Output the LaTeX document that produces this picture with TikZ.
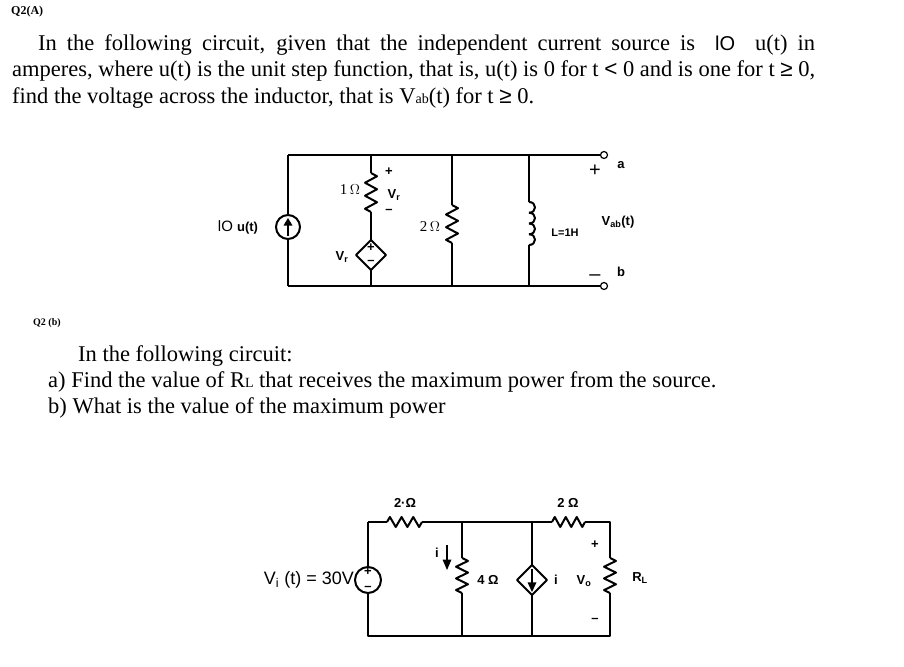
\documentclass[tikz,border=0pt]{standalone}
\usepackage{fontspec}
\setmainfont{Liberation Serif}
\newfontfamily\lab{Liberation Sans}
\newcommand\zigv[3]{\draw[wire] (#1,#2) \foreach \k in {1,...,6}{ -- ({#1+6*(2*mod(\k,2)-1)},{#2+(\k-0.5)*(#3-#2)/6}) } -- (#1,#3);}
\newcommand\zigh[3]{\draw[wire] (#2,#1) \foreach \k in {1,...,6}{ -- ({#2+(\k-0.5)*(#3-#2)/6},{#1-5*(2*mod(\k,2)-1)}) } -- (#3,#1);}
% vertical arrow: x, y-start, y-tip
\newcommand\varr[3]{\draw[line width=2pt] (#1,#2) -- (#1,{#3-0.3*(#3-#2)}); \fill (#1,#3) -- ({#1-4.5},{#3-0.42*(#3-#2)}) -- ({#1+4.5},{#3-0.42*(#3-#2)}) -- cycle;}
\begin{document}
\begin{tikzpicture}[x=1pt,y=-1pt,wire/.style={line width=2pt,line join=round},
 txt/.style={inner sep=0,anchor=base west,font=\fontsize{22.5}{22.5}\selectfont},
 lb/.style={inner sep=0,font=\lab\bfseries\fontsize{13}{13}\selectfont},
 ohm/.style={inner sep=0,font=\fontsize{15}{15}\selectfont}]
\useasboundingbox (0,0) rectangle (904,666);
\node[inner sep=0,anchor=west,font=\bfseries\fontsize{12}{12}\selectfont] (qa) at (11,12) {Q2(A)};
\node[txt] (l1) at (38,51) {\makebox[777pt][s]{In the following circuit, given that the independent current source is \ {\lab\fontsize{20}{20}\selectfont lO} \ u(t) in}};
\node[txt] (l2) at (12,77) {\makebox[803pt][s]{amperes, where u(t) is the unit step function, that is, u(t) is 0 for t {\lab <} 0 and is one for t {\lab≥} 0,}};
\node[txt] (l3) at (12,103) {find the voltage across the inductor, that is V{\fontsize{14}{14}\selectfont ab}(t) for t {\lab≥} 0.};
% circuit A
\draw[wire] (288,155) -- (600,155);
\draw[wire] (288,286) -- (600,286);
\draw[wire] (288,155) -- (288,215) (288,239) -- (288,286);
\draw[wire] (288,227) circle (12);
\varr{288}{236}{218}
\draw[wire] (371,155) -- (371,173); \zigv{371}{173}{212}
\draw[wire] (371,212) -- (371,240) (371,270) -- (371,286);
\draw[wire] (371,240) -- (386,255) -- (371,270) -- (356,255) -- cycle;
\node[lb] (dp) at (371,248) {+}; \node[lb] (dm) at (371,262) {–};
\draw[wire] (452,155) -- (452,205); \zigv{452}{205}{243} \draw[wire] (452,243) -- (452,286);
\draw[wire] (529,155) -- (529,202) (529,245) -- (529,286);
\foreach \i in {0,...,3}{\draw[wire] (529,{202+\i*10.75}) .. controls (537,{202+\i*10.75}) and (537,{202+(\i+1)*10.75}) .. (529,{202+(\i+1)*10.75});}
\draw[line width=1.2pt] (604,155) circle (3.5) (604,286) circle (3.5);
\node[ohm] (r1) at (350,190) {1$\,\Omega$};
\node[lb] (p1) at (389,172) {+};
\node[lb] (v1) at (394,195) {V\textsubscript{r}};
\node[lb] (m1) at (389,211) {–};
\node[lb] (v2) at (342,257) {V\textsubscript{r}};
\node[ohm] (r2) at (430,227) {2$\,\Omega$};
\node[lb,font=\lab\bfseries\fontsize{11}{11}\selectfont] (lh) at (565,233) {L=1H};
\node[lb] (vab) at (618,222) {V\textsubscript{ab}(t)};
\node[inner sep=0,font=\lab\fontsize{20}{20}\selectfont] (pa) at (595,171) {+};
\node[lb] (a) at (621,165) {a};
\node[inner sep=0,font=\lab\fontsize{20}{20}\selectfont] (mb) at (595,278) {–};
\node[lb] (b) at (621,272) {b};
\node[inner sep=0,font=\lab\fontsize{15}{15}\selectfont] (src) at (238,227) {lO {\bfseries\fontsize{13}{13}\selectfont u(t)}};
% Q2b
\node[inner sep=0,anchor=west,font=\bfseries\fontsize{10}{10}\selectfont] (qb) at (33,323) {Q2 (b)};
\node[txt] (m1t) at (78,361) {In the following circuit:};
\node[txt] (m2t) at (48,387) {a) Find the value of R{\fontsize{14}{14}\selectfont L} that receives the maximum power from the source.};
\node[txt] (m3t) at (48,413) {b) What is the value of the maximum power};
% circuit B
\draw[wire] (368,522) -- (387,522); \zigh{522}{387}{422} \draw[wire] (422,522) -- (552,522);
\zigh{522}{552}{585} \draw[wire] (585,522) -- (610,522) -- (610,558);
\zigv{610}{558}{593} \draw[wire] (610,593) -- (610,636) -- (368,636) -- (368,593);
\draw[wire] (368,522) -- (368,567);
\draw[wire] (368,580) circle (13);
\node[lb] (vp) at (368,572) {+}; \node[lb] (vm) at (368,588) {–};
\draw[wire] (462,522) -- (462,558); \zigv{462}{558}{593} \draw[wire] (462,593) -- (462,636);
\draw[wire] (532,522) -- (532,565) (532,595) -- (532,636);
\draw[wire] (532,565) -- (547,580) -- (532,595) -- (517,580) -- cycle;
\varr{532}{569}{592}
\varr{447}{545}{570}
\node[lb] (ii) at (437,553) {i};
\node[lb] (r4) at (488,580) {4 Ω};
\node[lb] (i2) at (556,580) {i};
\node[lb] (vo) at (584,581) {V\textsubscript{o}};
\node[lb] (vop) at (595,545) {+};
\node[lb] (vom) at (595,620) {–};
\node[lb] (rl) at (640,578) {R\textsubscript{L}};
\node[lb] (r2a) at (405,503) {2·Ω};
\node[lb] (r2b) at (568,503) {2 Ω};
\node[inner sep=0,font=\lab\fontsize{18}{18}\selectfont,anchor=east] (vi) at (354,580) {V\textsubscript{i} (t) = 30V};
\end{tikzpicture}
\end{document}
